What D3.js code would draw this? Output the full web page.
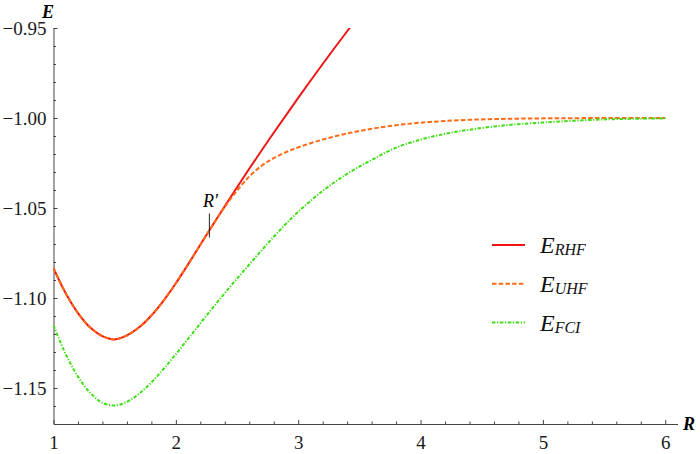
<!DOCTYPE html>
<html>
<head>
<meta charset="utf-8">
<script src="https://cdn.jsdelivr.net/npm/d3@7"></script>
<style>
  body { margin: 0; background: #fff; }
  svg { display: block; }
  text { font-family: "Liberation Serif", "Times New Roman", serif; }
</style>
</head>
<body>
<svg id="chart"></svg>
<script>
// bond length R and energy E
const rhfR = [1.0, 1.1, 1.2, 1.3, 1.4, 1.5, 1.6, 1.7, 1.8, 1.9, 2.0, 2.1, 2.2, 2.3, 2.4, 2.6, 2.8, 3.0, 3.2, 3.4, 3.6];
const rhfE = [-1.0834, -1.0974, -1.1084, -1.1164, -1.1212, -1.1230, -1.1208, -1.1163, -1.1097, -1.1014, -1.0918, -1.0813, -1.0704, -1.0596, -1.0490, -1.0282, -1.0082, -0.9888, -0.9700, -0.9518, -0.9340];

const uhfR = [1.0, 1.1, 1.2, 1.3, 1.4, 1.5, 1.6, 1.7, 1.8, 1.9, 2.0, 2.1, 2.2, 2.3, 2.4, 2.5, 2.6, 2.7, 2.8, 2.9, 3.0, 3.2, 3.4, 3.6, 3.8, 4.0, 4.4, 5.0, 6.0];
const uhfE = [-1.0834, -1.0974, -1.1084, -1.1164, -1.1212, -1.1230, -1.1208, -1.1163, -1.1097, -1.1014, -1.0918, -1.0813, -1.0704, -1.0597, -1.0494, -1.0403, -1.0325, -1.0266, -1.0223, -1.0190, -1.0163, -1.0120, -1.0086, -1.0060, -1.0040, -1.0026, -1.0010, -1.0002, -1.0000];

const fciR = [1.0, 1.1, 1.2, 1.3, 1.4, 1.5, 1.6, 1.7, 1.8, 1.9, 2.0, 2.1, 2.2, 2.3, 2.4, 2.5, 2.6, 2.7, 2.8, 2.9, 3.0, 3.2, 3.4, 3.6, 3.8, 4.0, 4.2, 4.4, 4.7, 5.0, 5.5, 6.0];
const fciE = [-1.1152, -1.1312, -1.1437, -1.1527, -1.1582, -1.1597, -1.1577, -1.1532, -1.1469, -1.1394, -1.1312, -1.1227, -1.1141, -1.1056, -1.0973, -1.0892, -1.0814, -1.0736, -1.0660, -1.0588, -1.0521, -1.0405, -1.0310, -1.0233, -1.0165, -1.0120, -1.0088, -1.0065, -1.0040, -1.0025, -1.0008, -1.0002];

const seriesNames = ["RHF", "UHF", "FCI"];
const xTicks = [1, 2, 3, 4, 5, 6];
const yTicks = [-0.95, -1.0, -1.05, -1.1, -1.15];
const rPrime = 2.274;

const chart = () => {
  const w = 700;
  const h = 454;

  const svg = d3.select("#chart").attr("width", w).attr("height", h);

  const xScale = d3.scaleLinear().domain([1, 6.1]).range([53.5, 677.5]);
  const yScale = d3.scaleLinear().domain([-1.17, -0.95]).range([424, 28]);

  svg
    .append("defs")
    .append("clipPath")
    .attr("id", "plot-clip")
    .append("rect")
    .attr("x", xScale(1))
    .attr("y", yScale(-0.95))
    .attr("width", xScale(6.1) - xScale(1))
    .attr("height", yScale(-1.17) - yScale(-0.95));

  // axes, major ticks plus minor ones at 0.2 and 0.01
  const minorX = d3.range(1, 6.01, 0.2).filter((v) => Math.abs(v - Math.round(v)) > 0.01);
  const minorY = d3.range(-1.16, -0.949, 0.01).filter((v) => Math.abs(v * 20 - Math.round(v * 20)) > 0.01);

  const xAxis = d3.axisBottom(xScale).tickValues(xTicks).tickSize(-4).tickSizeOuter(0).tickPadding(12).tickFormat(d3.format("d"));
  const yAxis = d3.axisLeft(yScale).tickValues(yTicks).tickSize(-4).tickSizeOuter(0).tickPadding(7).tickFormat(d3.format(".2f"));

  const gx = svg.append("g").attr("id", "x-axis").attr("transform", "translate(0," + yScale(-1.17) + ")").call(xAxis);
  gx.append("g")
    .attr("class", "minor")
    .call(d3.axisBottom(xScale).tickValues(minorX).tickSize(-2.5).tickSizeOuter(0).tickFormat(""));

  const gy = svg.append("g").attr("id", "y-axis").attr("transform", "translate(" + xScale(1) + ",0)").call(yAxis);
  gy.append("g")
    .attr("class", "minor")
    .call(d3.axisLeft(yScale).tickValues(minorY).tickSize(-2.5).tickSizeOuter(0).tickFormat(""));

  svg.selectAll(".minor .domain").remove();
  svg.selectAll(".domain, .tick line").attr("stroke", "#444").attr("stroke-width", 1);
  svg
    .selectAll(".tick text")
    .attr("font-family", null)
    .attr("font-size", 19)
    .attr("fill", "#1a1a1a")
    .style("font-family", "'Liberation Serif', serif");

  svg
    .append("text")
    .attr("x", 689)
    .attr("y", yScale(-1.17) + 6)
    .attr("text-anchor", "middle")
    .attr("font-size", 18)
    .attr("font-weight", "bold")
    .attr("font-style", "italic")
    .text("R");
  svg
    .append("text")
    .attr("x", 48)
    .attr("y", 18)
    .attr("text-anchor", "middle")
    .attr("font-size", 18)
    .attr("font-weight", "bold")
    .attr("font-style", "italic")
    .text("E");

  // curves
  const line = d3
    .line()
    .x((d) => xScale(d[0]))
    .y((d) => yScale(d[1]))
    .curve(d3.curveCatmullRom.alpha(0.5));

  const series = [
    { name: seriesNames[0], points: d3.zip(rhfR, rhfE), color: "#f01414", dash: null },
    { name: seriesNames[1], points: d3.zip(uhfR, uhfE), color: "#ff6a14", dash: "4.5,2.2" },
    { name: seriesNames[2], points: d3.zip(fciR, fciE), color: "#3ee014", dash: "3.5,1.6,1.2,1.6" },
  ];

  svg
    .append("g")
    .attr("clip-path", "url(#plot-clip)")
    .selectAll("path")
    .data(series)
    .enter()
    .append("path")
    .attr("fill", "none")
    .attr("stroke", (d) => d.color)
    .attr("stroke-width", 2)
    .attr("stroke-dasharray", (d) => d.dash)
    .attr("d", (d) => line(d.points));

  // R' marker
  const rpY = yScale(-1.0614);
  svg
    .append("line")
    .attr("x1", xScale(rPrime))
    .attr("x2", xScale(rPrime))
    .attr("y1", rpY - 15)
    .attr("y2", rpY + 9)
    .attr("stroke", "#222")
    .attr("stroke-width", 1);
  svg
    .append("text")
    .attr("x", xScale(rPrime) + 1)
    .attr("y", rpY - 22)
    .attr("text-anchor", "middle")
    .attr("font-size", 18)
    .attr("font-style", "italic")
    .text("R'");

  // legend
  const legend = svg
    .selectAll(".legend")
    .data(series)
    .enter()
    .append("g")
    .attr("class", "legend")
    .attr("transform", (d, i) => "translate(492," + (245 + i * 38.8) + ")");
  legend
    .append("line")
    .attr("x1", 0)
    .attr("x2", 33)
    .attr("stroke", (d) => d.color)
    .attr("stroke-width", 2)
    .attr("stroke-dasharray", (d) => d.dash);
  const label = legend
    .append("text")
    .attr("x", 48)
    .attr("y", 8)
    .attr("font-style", "italic")
    .attr("font-size", 24)
    .attr("fill", "#111")
    .text("E");
  label
    .append("tspan")
    .attr("font-size", 16)
    .attr("dy", 2)
    .text((d) => d.name);
};

chart();
</script>
</body>
</html>
